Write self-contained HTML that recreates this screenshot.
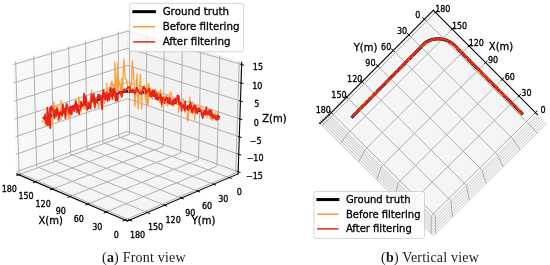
<!DOCTYPE html>
<html><head><meta charset="utf-8"><style>
html,body{margin:0;padding:0;background:#fff;}
body{width:550px;height:265px;overflow:hidden;position:relative;}
#fig{position:absolute;left:0;top:0;width:550px;height:265px;}
#fig svg{display:block}
#fig svg text{stroke:#000;stroke-width:0.3px;}
.cap{position:absolute;font-family:'Liberation Serif', serif;font-size:14px;color:#1a1a1a;white-space:nowrap;line-height:1;letter-spacing:0.2px;}
.cap b{font-weight:bold}
</style></head><body>
<div id="fig"><svg width="550px" height="265px" viewBox="0 0 550 265" version="1.1">
 
 <defs>
  <style type="text/css">*{stroke-linejoin: round; stroke-linecap: butt}</style>
 </defs>
 <g id="figure_1">
  <g id="patch_1">
   <path d="M 0 265 
L 550 265 
L 550 0 
L 0 0 
z
" style="fill: #ffffff"/>
  </g>
  <g id="patch_2">
   <path d="M 2.235 244.171 
L 246.035 244.171 
L 246.035 0.371 
L 2.235 0.371 
z
" style="fill: #ffffff"/>
  </g>
  <g id="pane3d_1">
   <g id="patch_3">
    <path d="M 127.429595 133.511484 
L 16.749578 173.865983 
L 13.142626 62.298031 
L 127.429595 29.096265 
" style="fill: #f2f2f2; opacity: 0.5; stroke: #f2f2f2; stroke-linejoin: miter"/>
   </g>
  </g>
  <g id="pane3d_2">
   <g id="patch_4">
    <path d="M 238.109611 173.865983 
L 127.429595 133.511484 
L 127.429595 29.096265 
L 241.716563 62.298031 
" style="fill: #e6e6e6; opacity: 0.5; stroke: #e6e6e6; stroke-linejoin: miter"/>
   </g>
  </g>
  <g id="pane3d_3">
   <g id="patch_5">
    <path d="M 238.109611 173.865983 
L 127.429595 133.511484 
L 16.749578 173.865983 
L 127.429595 221.099498 
" style="fill: #ececec; opacity: 0.5; stroke: #ececec; stroke-linejoin: miter"/>
   </g>
  </g>
  <g id="grid3d_1">
   <g id="Line3DCollection_1">
    <path d="M 125.031412 220.076056 
L 235.725903 172.996871 
L 239.249457 61.581306 
" style="fill: none; stroke: #b0b0b0"/>
    <path d="M 106.135844 212.012233 
L 216.922062 166.140895 
L 219.796572 55.930004 
" style="fill: none; stroke: #b0b0b0"/>
    <path d="M 87.741125 204.162151 
L 198.578514 159.452743 
L 200.834969 50.421426 
" style="fill: none; stroke: #b0b0b0"/>
    <path d="M 69.827604 196.517423 
L 180.67856 152.926329 
L 182.346268 45.050232 
" style="fill: none; stroke: #b0b0b0"/>
    <path d="M 52.376642 189.070096 
L 163.206304 146.555855 
L 164.312996 39.811345 
" style="fill: none; stroke: #b0b0b0"/>
    <path d="M 35.370552 181.812621 
L 146.146596 140.335799 
L 146.718531 34.699937 
" style="fill: none; stroke: #b0b0b0"/>
    <path d="M 18.792535 174.73783 
L 129.484996 134.260894 
L 129.547048 29.711411 
" style="fill: none; stroke: #b0b0b0"/>
   </g>
  </g>
  <g id="grid3d_2">
   <g id="Line3DCollection_2">
    <path d="M 118.273525 31.756215 
L 118.543141 136.751531 
L 229.273596 177.636818 
" style="fill: none; stroke: #b0b0b0"/>
    <path d="M 102.136237 36.444295 
L 102.889267 142.459013 
L 213.687253 184.288405 
" style="fill: none; stroke: #b0b0b0"/>
    <path d="M 85.627533 41.240276 
L 86.885948 148.293905 
L 197.724799 191.1005 
" style="fill: none; stroke: #b0b0b0"/>
    <path d="M 68.734442 46.147926 
L 70.521354 154.260519 
L 181.372452 198.078985 
" style="fill: none; stroke: #b0b0b0"/>
    <path d="M 51.44338 51.171192 
L 53.78311 160.363369 
L 164.615752 205.230031 
" style="fill: none; stroke: #b0b0b0"/>
    <path d="M 33.740116 56.314207 
L 36.65827 166.607172 
L 147.439512 212.560118 
" style="fill: none; stroke: #b0b0b0"/>
    <path d="M 15.609732 61.581306 
L 19.133287 172.996871 
L 129.827777 220.076056 
" style="fill: none; stroke: #b0b0b0"/>
   </g>
  </g>
  <g id="grid3d_3">
   <g id="Line3DCollection_3">
    <path d="M 238.179518 171.703682 
L 127.429595 131.483101 
L 16.679672 171.703682 
" style="fill: none; stroke: #b0b0b0"/>
    <path d="M 238.741964 154.306441 
L 127.429595 115.170114 
L 16.117225 154.306441 
" style="fill: none; stroke: #b0b0b0"/>
    <path d="M 239.310153 136.731594 
L 127.429595 98.702838 
L 15.549036 136.731594 
" style="fill: none; stroke: #b0b0b0"/>
    <path d="M 239.884172 118.976405 
L 127.429595 82.079073 
L 14.975018 118.976405 
" style="fill: none; stroke: #b0b0b0"/>
    <path d="M 240.464111 101.038087 
L 127.429595 65.29658 
L 14.395078 101.038087 
" style="fill: none; stroke: #b0b0b0"/>
    <path d="M 241.050063 82.91379 
L 127.429595 48.353073 
L 13.809126 82.91379 
" style="fill: none; stroke: #b0b0b0"/>
    <path d="M 241.642122 64.600607 
L 127.429595 31.246224 
L 13.217067 64.600607 
" style="fill: none; stroke: #b0b0b0"/>
   </g>
  </g>
  <g id="axis3d_1">
   <g id="line2d_1">
    <path d="M 16.749578 173.865983 
L 127.429595 221.099498 
" style="fill: none; stroke: #000000; stroke-width: 1.1; stroke-linecap: square"/>
   </g>
   <g id="xtick_1">
    <g id="line2d_2">
     <path d="M 125.991664 219.667654 
L 123.106981 220.894531 
" style="fill: none; stroke: #000000; stroke-linecap: square"/>
    </g>
    <g id="text_1">
     <text style="font-size: 8px; font-family: 'DejaVu Sans', sans-serif; text-anchor: middle" x="116.294" y="238.136" transform="rotate(-0 116.294 238.136)">0</text>
    </g>
   </g>
   <g id="xtick_2">
    <g id="line2d_3">
     <path d="M 107.095888 211.614724 
L 104.211882 212.808854 
" style="fill: none; stroke: #000000; stroke-linecap: square"/>
    </g>
    <g id="text_2">
     <text style="font-size: 8px; font-family: 'DejaVu Sans', sans-serif; text-anchor: middle" x="97.274" y="229.962" transform="rotate(-0 97.274 229.962)">30</text>
    </g>
   </g>
   <g id="xtick_3">
    <g id="line2d_4">
     <path d="M 88.700636 203.775105 
L 85.818285 204.937783 
" style="fill: none; stroke: #000000; stroke-linecap: square"/>
    </g>
    <g id="text_3">
     <text style="font-size: 8px; font-family: 'DejaVu Sans', sans-serif; text-anchor: middle" x="78.756" y="222.009" transform="rotate(-0 78.756 222.009)">60</text>
    </g>
   </g>
   <g id="xtick_4">
    <g id="line2d_5">
     <path d="M 70.78628 196.140433 
L 67.906486 197.272885 
" style="fill: none; stroke: #000000; stroke-linecap: square"/>
    </g>
    <g id="text_4">
     <text style="font-size: 8px; font-family: 'DejaVu Sans', sans-serif; text-anchor: middle" x="60.719" y="214.267" transform="rotate(-0 60.719 214.267)">90</text>
    </g>
   </g>
   <g id="xtick_5">
    <g id="line2d_6">
     <path d="M 53.334207 188.702775 
L 50.457799 189.806164 
" style="fill: none; stroke: #000000; stroke-linecap: square"/>
    </g>
    <g id="text_5">
     <text style="font-size: 8px; font-family: 'DejaVu Sans', sans-serif; text-anchor: middle" x="43.145" y="206.729" transform="rotate(-0 43.145 206.729)">120</text>
    </g>
   </g>
   <g id="xtick_6">
    <g id="line2d_7">
     <path d="M 36.32675 181.454601 
L 33.454494 182.530033 
" style="fill: none; stroke: #000000; stroke-linecap: square"/>
    </g>
    <g id="text_6">
     <text style="font-size: 8px; font-family: 'DejaVu Sans', sans-serif; text-anchor: middle" x="26.016" y="199.386" transform="rotate(-0 26.016 199.386)">150</text>
    </g>
   </g>
   <g id="xtick_7">
    <g id="line2d_8">
     <path d="M 19.747132 174.388762 
L 16.879732 175.437285 
" style="fill: none; stroke: #000000; stroke-linecap: square"/>
    </g>
    <g id="text_7">
     <text style="font-size: 8px; font-family: 'DejaVu Sans', sans-serif; text-anchor: middle" x="9.316" y="192.242" transform="rotate(-0 9.316 192.242)">180</text>
    </g>
   </g>
   <g id="text_8">
    <text style="font-size: 10px; font-family: 'DejaVu Sans', sans-serif; text-anchor: middle" x="50.700" y="223.826" transform="rotate(-0 50.700 223.826)">X(m)</text>
   </g>
  </g>
  <g id="axis3d_2">
   <g id="line2d_9">
    <path d="M 238.109611 173.865983 
L 127.429595 221.099498 
" style="fill: none; stroke: #000000; stroke-width: 1.1; stroke-linecap: square"/>
   </g>
   <g id="xtick_8">
    <g id="line2d_10">
     <path d="M 228.318311 177.284095 
L 231.187797 178.343603 
" style="fill: none; stroke: #000000; stroke-linecap: square"/>
    </g>
    <g id="text_9">
     <text style="font-size: 8px; font-family: 'DejaVu Sans', sans-serif; text-anchor: middle" x="239.324" y="194.949" transform="rotate(-0 239.324 194.949)">0</text>
    </g>
   </g>
   <g id="xtick_9">
    <g id="line2d_11">
     <path d="M 212.730557 183.927225 
L 215.604324 185.012154 
" style="fill: none; stroke: #000000; stroke-linecap: square"/>
    </g>
    <g id="text_10">
     <text style="font-size: 8px; font-family: 'DejaVu Sans', sans-serif; text-anchor: middle" x="223.351" y="201.689" transform="rotate(-0 223.351 201.689)">30</text>
    </g>
   </g>
   <g id="xtick_10">
    <g id="line2d_12">
     <path d="M 196.766902 190.730555 
L 199.644321 191.841831 
" style="fill: none; stroke: #000000; stroke-linecap: square"/>
    </g>
    <g id="text_11">
     <text style="font-size: 8px; font-family: 'DejaVu Sans', sans-serif; text-anchor: middle" x="207.002" y="208.594" transform="rotate(-0 207.002 208.594)">60</text>
    </g>
   </g>
   <g id="xtick_11">
    <g id="line2d_13">
     <path d="M 180.41358 197.699952 
L 183.293973 198.838545 
" style="fill: none; stroke: #000000; stroke-linecap: square"/>
    </g>
    <g id="text_12">
     <text style="font-size: 8px; font-family: 'DejaVu Sans', sans-serif; text-anchor: middle" x="190.263" y="215.661" transform="rotate(-0 190.263 215.661)">90</text>
    </g>
   </g>
   <g id="xtick_12">
    <g id="line2d_14">
     <path d="M 163.65615 204.84157 
L 166.538783 206.008502 
" style="fill: none; stroke: #000000; stroke-linecap: square"/>
    </g>
    <g id="text_13">
     <text style="font-size: 8px; font-family: 'DejaVu Sans', sans-serif; text-anchor: middle" x="173.109" y="222.915" transform="rotate(-0 173.109 222.915)">120</text>
    </g>
   </g>
   <g id="xtick_13">
    <g id="line2d_15">
     <path d="M 146.479443 212.161874 
L 149.363528 213.358215 
" style="fill: none; stroke: #000000; stroke-linecap: square"/>
    </g>
    <g id="text_14">
     <text style="font-size: 8px; font-family: 'DejaVu Sans', sans-serif; text-anchor: middle" x="155.545" y="230.345" transform="rotate(-0 155.545 230.345)">150</text>
    </g>
   </g>
   <g id="xtick_14">
    <g id="line2d_16">
     <path d="M 128.867525 219.667654 
L 131.752208 220.894531 
" style="fill: none; stroke: #000000; stroke-linecap: square"/>
    </g>
    <g id="text_15">
     <text style="font-size: 8px; font-family: 'DejaVu Sans', sans-serif; text-anchor: middle" x="137.545" y="237.976" transform="rotate(-0 137.545 237.976)">180</text>
    </g>
   </g>
   <g id="text_16">
    <text style="font-size: 10px; font-family: 'DejaVu Sans', sans-serif; text-anchor: middle" x="203.549" y="223.626" transform="rotate(-0 203.549 223.626)">Y(m)</text>
   </g>
  </g>
  <g id="axis3d_3">
   <g id="line2d_17">
    <path d="M 238.109611 173.865983 
L 241.716563 62.298031 
" style="fill: none; stroke: #000000; stroke-width: 1.1; stroke-linecap: square"/>
   </g>
   <g id="xtick_15">
    <g id="line2d_18">
     <path d="M 237.22449 171.356849 
L 240.09318 172.398659 
" style="fill: none; stroke: #000000; stroke-linecap: square"/>
    </g>
    <g id="text_17">
     <text style="font-size: 8px; font-family: 'DejaVu Sans', sans-serif; text-anchor: middle" x="254.516" y="179.072" transform="rotate(-0 254.516 179.072)">−15</text>
    </g>
   </g>
   <g id="xtick_16">
    <g id="line2d_19">
     <path d="M 237.781734 153.968834 
L 240.66607 154.982938 
" style="fill: none; stroke: #000000; stroke-linecap: square"/>
    </g>
    <g id="text_18">
     <text style="font-size: 8px; font-family: 'DejaVu Sans', sans-serif; text-anchor: middle" x="255.071" y="161.425" transform="rotate(-0 255.071 161.425)">−10</text>
    </g>
   </g>
   <g id="xtick_17">
    <g id="line2d_20">
     <path d="M 238.344664 136.403419 
L 241.244815 137.389195 
" style="fill: none; stroke: #000000; stroke-linecap: square"/>
    </g>
    <g id="text_19">
     <text style="font-size: 8px; font-family: 'DejaVu Sans', sans-serif; text-anchor: middle" x="255.623" y="143.590" transform="rotate(-0 255.623 143.590)">−5</text>
    </g>
   </g>
   <g id="xtick_18">
    <g id="line2d_21">
     <path d="M 238.913366 118.657876 
L 241.829506 119.614687 
" style="fill: none; stroke: #000000; stroke-linecap: square"/>
    </g>
    <g id="text_20">
     <text style="font-size: 8px; font-family: 'DejaVu Sans', sans-serif; text-anchor: middle" x="256.192" y="125.585" transform="rotate(-0 256.192 125.585)">0</text>
    </g>
   </g>
   <g id="xtick_19">
    <g id="line2d_22">
     <path d="M 239.48793 100.729418 
L 242.420236 101.656613 
" style="fill: none; stroke: #000000; stroke-linecap: square"/>
    </g>
    <g id="text_21">
     <text style="font-size: 8px; font-family: 'DejaVu Sans', sans-serif; text-anchor: middle" x="256.768" y="107.397" transform="rotate(-0 256.768 107.397)">5</text>
    </g>
   </g>
   <g id="xtick_20">
    <g id="line2d_23">
     <path d="M 240.068447 82.615205 
L 243.017098 83.512116 
" style="fill: none; stroke: #000000; stroke-linecap: square"/>
    </g>
    <g id="text_22">
     <text style="font-size: 8px; font-family: 'DejaVu Sans', sans-serif; text-anchor: middle" x="257.351" y="89.013" transform="rotate(-0 257.351 89.013)">10</text>
    </g>
   </g>
   <g id="xtick_21">
    <g id="line2d_24">
     <path d="M 240.655011 64.312333 
L 243.620189 65.178277 
" style="fill: none; stroke: #000000; stroke-linecap: square"/>
    </g>
    <g id="text_23">
     <text style="font-size: 8px; font-family: 'DejaVu Sans', sans-serif; text-anchor: middle" x="257.941" y="70.449" transform="rotate(-0 257.941 70.449)">15</text>
    </g>
   </g>
   <g id="text_24">
    <text style="font-size: 10px; font-family: 'DejaVu Sans', sans-serif; text-anchor: middle" x="274.400" y="122.026" transform="rotate(-0 274.400 122.026)">Z(m)</text>
   </g>
  </g>
  <g id="axes_1">
   <g id="line2d_25">
    <path d="M 43.939997 118.096411 
L 119.420012 92.645761 
L 121.773661 92.135803 
L 125.655909 91.584493 
L 129.831257 91.306064 
L 134.146142 91.310244 
L 138.442402 91.596888 
L 142.562232 92.155979 
L 146.353177 92.967868 
L 149.298875 93.860095 
L 218.378957 116.930607 
L 218.378957 116.930607 
" clip-path="url(#pd5484f3f6d)" style="fill: none; stroke: #000000; stroke-width: 2.5; stroke-linecap: square"/>
   </g>
   <g id="line2d_26">
    <path d="M 42.571384 122.078446 
L 44.729285 116.756534 
L 45.108668 125.829681 
L 46.084999 114.239562 
L 47.202977 111.411916 
L 47.354283 118.807613 
L 49.256392 114.445999 
L 49.560378 114.833563 
L 50.561146 118.139964 
L 50.460135 120.502315 
L 51.893442 125.760115 
L 53.133447 108.383132 
L 52.621148 115.130698 
L 53.720019 101.93888 
L 54.695708 110.263447 
L 56.792177 117.238298 
L 56.243977 106.699722 
L 56.756904 115.44839 
L 57.850577 105.094219 
L 58.894275 115.002061 
L 60.04477 111.506351 
L 60.990265 119.903042 
L 61.022245 100.099407 
L 62.038496 112.359271 
L 63.378189 113.379842 
L 63.908706 107.043882 
L 65.098622 114.729914 
L 66.185089 107.368451 
L 65.803358 116.278814 
L 67.246345 107.687272 
L 68.195488 115.033639 
L 69.223005 118.715407 
L 68.555087 112.322628 
L 70.457876 116.470556 
L 71.031027 106.330536 
L 71.515774 108.564572 
L 72.243902 106.153846 
L 73.044374 107.84039 
L 73.802169 109.701381 
L 75.090164 107.761405 
L 74.988209 102.017287 
L 76.544573 108.214797 
L 76.317616 110.994375 
L 77.143204 111.70698 
L 77.53407 107.556124 
L 78.553626 109.85077 
L 78.778525 96.873563 
L 81.268663 111.869254 
L 81.012586 110.469112 
L 81.571627 106.863421 
L 83.280426 102.137028 
L 83.807011 106.252038 
L 83.920655 109.122633 
L 85.380312 108.325211 
L 86.842555 98.928024 
L 87.261256 107.904796 
L 87.572323 103.923934 
L 88.038016 106.039626 
L 89.64638 101.343652 
L 91.185805 100.436256 
L 91.022339 109.104067 
L 91.739416 90.177932 
L 91.705517 100.820744 
L 95.129611 105.949594 
L 94.853111 102.20063 
L 94.856861 100.48022 
L 96.11142 97.396879 
L 97.246504 100.439114 
L 96.376554 97.615457 
L 98.576618 107.414853 
L 98.876776 103.376735 
L 100.188152 104.486396 
L 100.846681 98.074122 
L 101.238312 96.589208 
L 100.923065 106.197889 
L 102.46328 98.940711 
L 103.718453 94.387069 
L 103.48758 92.069392 
L 104.562514 103.441156 
L 104.656231 92.784265 
L 106.982151 94.320545 
L 107.109779 99.575628 
L 106.693829 83.14488 
L 107.98106 101.497502 
L 108.644956 98.293727 
L 108.913085 89.458939 
L 110.671207 87.995699 
L 110.976184 96.370373 
L 110.846063 83.679428 
L 112.063902 81.340889 
L 112.175147 85.382362 
L 113.804876 84.329137 
L 113.694079 90.319084 
L 115.623942 102.55763 
L 114.694155 61.921401 
L 117.264263 92.443937 
L 117.797927 62.654557 
L 117.527808 90.423191 
L 118.843751 79.531785 
L 120.731077 90.136255 
L 121.959144 78.212063 
L 122.334083 96.880127 
L 123.82445 58.920351 
L 125.399791 78.845998 
L 126.472498 79.927404 
L 128.712674 91.703269 
L 130.243843 83.516773 
L 131.342902 86.055538 
L 132.290031 60.839483 
L 133.488945 72.039794 
L 134.854958 106.277584 
L 137.088769 73.664898 
L 138.108477 109.096127 
L 140.380196 74.379407 
L 141.535241 108.867024 
L 142.216694 91.512122 
L 144.189877 85.228706 
L 144.617047 91.845987 
L 146.064457 101.925344 
L 146.713958 83.301304 
L 147.674646 105.598813 
L 148.305936 102.914875 
L 148.586539 83.385398 
L 152.45759 99.045207 
L 150.862071 92.089042 
L 152.968246 89.230643 
L 152.836784 94.720125 
L 154.123925 93.507647 
L 155.699163 94.025606 
L 153.862207 94.190309 
L 155.267042 89.310307 
L 156.218711 91.175716 
L 157.676504 94.63123 
L 158.739369 92.116677 
L 158.01134 99.30831 
L 159.264713 100.904341 
L 159.656006 102.396279 
L 159.626639 94.075227 
L 160.580605 89.568908 
L 161.794059 107.446195 
L 163.07073 100.7362 
L 164.205128 96.385272 
L 164.315043 97.326528 
L 164.043424 98.345762 
L 167.28469 94.81776 
L 166.409608 95.13053 
L 167.241357 105.952891 
L 168.045105 97.735036 
L 168.496736 103.74992 
L 168.149851 99.285755 
L 169.517305 94.306576 
L 170.889265 92.118324 
L 171.822678 97.757109 
L 170.741145 104.081375 
L 171.795666 103.501384 
L 173.200949 99.787491 
L 172.825363 106.543949 
L 176.125514 99.917292 
L 176.347774 98.82708 
L 177.111681 104.351817 
L 177.9314 101.999805 
L 178.464362 96.74687 
L 178.888624 101.838985 
L 178.371949 112.306103 
L 179.900892 103.361803 
L 180.454752 102.811356 
L 181.598337 106.941628 
L 182.289246 104.4389 
L 185.078413 112.583105 
L 183.443153 98.99601 
L 184.776339 103.740494 
L 185.030489 109.10364 
L 186.902427 105.196303 
L 186.130492 105.684464 
L 187.884298 110.884854 
L 187.195488 119.62236 
L 188.04792 120.802516 
L 189.836627 97.162097 
L 190.702522 113.111187 
L 190.711796 105.227469 
L 193.489487 110.017762 
L 192.679678 102.500319 
L 193.068583 113.437859 
L 195.4717 106.120611 
L 194.462637 119.843924 
L 196.253869 105.767368 
L 195.530153 106.148585 
L 196.615991 108.019712 
L 197.389454 108.935828 
L 198.817617 108.714397 
L 200.350575 106.419615 
L 200.0801 105.853235 
L 201.096824 115.697628 
L 201.151492 106.27042 
L 202.420004 116.30154 
L 202.83237 110.469741 
L 203.48046 113.266738 
L 204.134837 110.076402 
L 204.060974 113.805268 
L 205.714054 110.872098 
L 207.321348 115.518984 
L 207.012733 117.974389 
L 208.129289 108.493704 
L 209.75249 110.984762 
L 209.960646 111.664206 
L 210.033992 109.33313 
L 210.480953 119.461777 
L 211.719365 110.195008 
L 212.295435 120.232311 
L 214.641408 113.162769 
L 214.359435 116.374145 
L 215.271819 114.225636 
L 215.306369 112.995631 
L 215.642535 116.011436 
L 216.956912 120.883191 
L 217.348698 112.250395 
L 218.250643 110.804535 
L 218.250643 110.804535 
" clip-path="url(#pd5484f3f6d)" style="fill: none; stroke: #ff9f3a; stroke-width: 1.3; stroke-linecap: square"/>
   </g>
   <g id="line2d_27">
    <path d="M 44.144707 117.081486 
L 44.699201 119.677435 
L 45.197988 114.299875 
L 46.250642 123.412268 
L 47.822288 125.21312 
L 47.280137 107.682741 
L 48.410744 115.919095 
L 50.319856 128.19219 
L 49.993524 108.13566 
L 50.146429 122.169773 
L 51.374186 106.119389 
L 51.750503 106.873144 
L 53.441468 111.036013 
L 54.05531 114.800578 
L 54.484043 118.453748 
L 55.565478 109.790508 
L 56.239335 115.910943 
L 56.875652 108.603101 
L 58.555343 114.635331 
L 58.599749 120.029392 
L 59.110085 115.802724 
L 60.241827 112.337949 
L 60.384199 114.606931 
L 61.662518 111.604677 
L 62.196975 115.768545 
L 62.862496 104.555918 
L 64.158095 113.634194 
L 64.964862 108.797363 
L 65.413707 118.093155 
L 66.153141 106.927603 
L 66.646395 103.77733 
L 67.784895 107.509187 
L 68.658211 110.863431 
L 69.901351 113.604729 
L 70.138387 106.730751 
L 70.879891 106.390174 
L 71.704379 114.40888 
L 72.215356 108.46746 
L 72.99542 105.819047 
L 74.27241 111.146293 
L 74.506747 105.086663 
L 74.927054 108.693705 
L 75.855465 101.008837 
L 76.901446 112.257327 
L 77.126704 104.351544 
L 77.76135 105.874999 
L 79.182925 114.102901 
L 79.580765 109.694928 
L 80.516843 109.220548 
L 80.997438 101.613723 
L 82.194992 106.705151 
L 83.442088 104.092488 
L 84.065668 93.667199 
L 84.909714 105.302483 
L 85.578314 96.053652 
L 86.510154 104.387555 
L 87.444372 109.85359 
L 87.596077 106.452229 
L 88.590069 108.274198 
L 88.709399 104.188495 
L 90.398303 108.403265 
L 90.597109 106.053895 
L 91.31701 94.260592 
L 92.558065 100.671241 
L 92.228535 100.223489 
L 93.852458 93.895601 
L 94.743484 107.560777 
L 95.544297 98.557859 
L 96.26973 102.275076 
L 96.575681 100.305256 
L 97.572255 102.78747 
L 97.350741 99.26359 
L 98.19852 94.643229 
L 99.040117 94.515041 
L 99.530876 98.129286 
L 100.778693 95.655715 
L 101.812662 103.325312 
L 102.175616 109.468035 
L 102.841111 93.805171 
L 103.417867 89.795669 
L 105.109215 99.621651 
L 106.60263 92.11762 
L 107.378144 100.973855 
L 108.954704 93.785058 
L 109.532854 99.770613 
L 110.340221 87.881511 
L 110.388255 92.147604 
L 111.866681 89.096166 
L 112.392702 98.931014 
L 113.651417 88.759883 
L 114.454488 92.471895 
L 114.70988 89.298449 
L 115.801416 100.378694 
L 116.415749 93.840412 
L 117.273048 100.553887 
L 117.960296 94.693916 
L 119.590665 91.422615 
L 120.95673 92.843279 
L 121.504708 96.755891 
L 122.824965 90.995729 
L 124.33665 89.304539 
L 125.131228 91.9626 
L 126.953827 88.514137 
L 128.147781 87.272967 
L 129.849891 86.844615 
L 131.211811 92.452469 
L 132.730701 89.345711 
L 134.659337 93.683414 
L 136.681553 87.597966 
L 138.771169 91.922708 
L 139.86272 93.434531 
L 141.438879 93.97196 
L 142.652136 90.266022 
L 143.386631 86.809226 
L 145.454505 89.174734 
L 146.189785 93.628043 
L 147.389235 90.483297 
L 148.950355 90.163998 
L 149.225942 88.576124 
L 150.102894 96.518542 
L 150.601425 91.998336 
L 151.57428 96.073562 
L 151.855596 96.720408 
L 152.656527 90.459057 
L 153.671488 93.407502 
L 153.85475 95.359676 
L 154.663551 90.980937 
L 154.990137 95.401642 
L 155.731263 99.161495 
L 156.732516 93.336973 
L 157.559976 99.711815 
L 157.924299 99.879922 
L 158.727051 98.490259 
L 159.29482 97.810935 
L 160.556425 94.381612 
L 160.843187 98.93572 
L 161.632446 104.11939 
L 162.412841 99.873097 
L 162.305878 97.292951 
L 163.215849 99.087018 
L 164.655517 99.425113 
L 164.666804 103.150489 
L 165.0886 100.703921 
L 166.262096 97.51215 
L 167.534725 97.830361 
L 167.671137 102.80372 
L 168.272448 102.644232 
L 169.223901 103.673091 
L 169.729518 97.562229 
L 170.656114 103.400493 
L 171.114368 101.970548 
L 171.483512 104.238401 
L 172.467504 104.612062 
L 172.579979 102.312833 
L 174.051815 99.007119 
L 174.197082 103.921894 
L 175.806411 98.776672 
L 175.65999 102.839394 
L 176.801314 100.965614 
L 177.501285 95.496744 
L 178.847711 96.355874 
L 178.933373 102.737511 
L 179.299743 103.777066 
L 179.997898 104.697477 
L 180.86962 102.145649 
L 181.667057 110.636342 
L 181.824352 107.128012 
L 183.419432 105.595637 
L 183.663859 107.745349 
L 184.999039 108.636777 
L 185.275816 101.658978 
L 185.014545 110.567651 
L 186.688567 107.517406 
L 187.164353 108.496412 
L 188.178037 108.281409 
L 188.377467 110.282163 
L 189.401577 104.940302 
L 190.494762 107.979609 
L 190.57881 102.451156 
L 191.801335 111.970666 
L 191.286283 107.90192 
L 192.581685 112.383161 
L 193.276381 107.83908 
L 194.399118 105.355667 
L 195.959101 112.874643 
L 195.572612 106.360193 
L 196.90802 112.224521 
L 197.466917 113.342295 
L 197.939575 108.97778 
L 198.655162 108.160608 
L 199.655627 110.266108 
L 200.410696 109.974934 
L 200.756926 111.234474 
L 201.731132 112.857638 
L 202.710978 118.068131 
L 203.549053 112.88653 
L 203.813181 114.167891 
L 204.311507 110.738052 
L 205.453148 114.96908 
L 206.379228 107.062106 
L 206.39372 111.171178 
L 207.682221 114.513529 
L 208.580156 111.512239 
L 208.756802 114.428099 
L 209.316822 110.122555 
L 210.19027 115.528118 
L 211.184512 110.133525 
L 212.348798 117.852205 
L 212.141921 114.616683 
L 212.872643 115.277638 
L 213.886913 117.968582 
L 214.03151 116.502426 
L 214.937245 115.803976 
L 216.068467 119.725542 
L 217.062924 119.052899 
L 217.627614 115.317182 
L 218.616883 119.206485 
L 218.616883 119.206485 
" clip-path="url(#pd5484f3f6d)" style="fill: none; stroke: #e8231b; stroke-width: 1.8; stroke-linecap: square"/>
   </g>
   <g id="legend_1">
    <g id="patch_6">
     <path d="M 131.75 51.757906 
L 241.543172 51.757906 
Q 243.603172 51.757906 243.603172 49.697906 
L 243.603172 5.3725 
Q 243.603172 3.3125 241.543172 3.3125 
L 131.75 3.3125 
Q 129.69 3.3125 129.69 5.3725 
L 129.69 49.697906 
Q 129.69 51.757906 131.75 51.757906 
z
" style="fill: #ffffff; opacity: 0.8; stroke: #cccccc; stroke-linejoin: miter"/>
    </g>
    <g id="line2d_28">
     <path d="M 133.81 11.653891 
L 144.11 11.653891 
L 154.41 11.653891 
" style="fill: none; stroke: #000000; stroke-width: 3; stroke-linecap: square"/>
    </g>
    <g id="text_25">
     <text style="font-size: 10.3px; font-family: 'DejaVu Sans', sans-serif; text-anchor: start" x="162.65" y="15.258891" transform="rotate(-0 162.65 15.258891)">Ground truth</text>
    </g>
    <g id="line2d_29">
     <path d="M 133.81 26.772359 
L 144.11 26.772359 
L 154.41 26.772359 
" style="fill: none; stroke: #ff9f3a; stroke-width: 1.5; stroke-linecap: square"/>
    </g>
    <g id="text_26">
     <text style="font-size: 10.3px; font-family: 'DejaVu Sans', sans-serif; text-anchor: start" x="162.65" y="30.377359" transform="rotate(-0 162.65 30.377359)">Before filtering</text>
    </g>
    <g id="line2d_30">
     <path d="M 133.81 41.890828 
L 144.11 41.890828 
L 154.41 41.890828 
" style="fill: none; stroke: #e8231b; stroke-width: 1.5; stroke-linecap: square"/>
    </g>
    <g id="text_27">
     <text style="font-size: 10.3px; font-family: 'DejaVu Sans', sans-serif; text-anchor: start" x="162.65" y="45.495828" transform="rotate(-0 162.65 45.495828)">After filtering</text>
    </g>
   </g>
  </g>
  <g id="patch_7">
   <path d="M 308.1945 244.11005 
L 551.9945 244.11005 
L 551.9945 0.31005 
L 308.1945 0.31005 
z
" style="fill: #ffffff"/>
  </g>
  <g id="pane3d_4">
   <g id="patch_8">
    <path d="M 537.556771 114.715701 
L 433.389095 217.986586 
L 433.389095 236.071247 
L 547.059206 123.498322 
" style="fill: #f2f2f2; opacity: 0.5; stroke: #f2f2f2; stroke-linejoin: miter"/>
   </g>
  </g>
  <g id="pane3d_5">
   <g id="patch_9">
    <path d="M 433.389095 217.986586 
L 329.221418 114.715701 
L 319.718983 123.498322 
L 433.389095 236.071247 
" style="fill: #e6e6e6; opacity: 0.5; stroke: #e6e6e6; stroke-linejoin: miter"/>
   </g>
  </g>
  <g id="pane3d_6">
   <g id="patch_10">
    <path d="M 537.556771 114.715701 
L 433.389095 10.196165 
L 329.221418 114.715701 
L 433.389095 217.986586 
" style="fill: #ececec; opacity: 0.5; stroke: #ececec; stroke-linejoin: miter"/>
   </g>
  </g>
  <g id="grid3d_4">
   <g id="Line3DCollection_4">
    <path d="M 535.485688 112.637622 
L 431.317938 215.933261 
L 431.130208 233.834164 
" style="fill: none; stroke: #b0b0b0"/>
    <path d="M 518.899081 95.994989 
L 414.730852 199.488975 
L 413.037904 215.916493 
" style="fill: none; stroke: #b0b0b0"/>
    <path d="M 502.280515 79.320288 
L 398.111996 183.013192 
L 394.907798 197.961386 
" style="fill: none; stroke: #b0b0b0"/>
    <path d="M 485.629895 62.613425 
L 381.461278 166.505823 
L 376.739774 179.968726 
" style="fill: none; stroke: #b0b0b0"/>
    <path d="M 468.94713 45.874309 
L 364.778608 149.966775 
L 358.533711 161.938396 
" style="fill: none; stroke: #b0b0b0"/>
    <path d="M 452.232126 29.102845 
L 348.063892 133.395958 
L 340.289491 143.870275 
" style="fill: none; stroke: #b0b0b0"/>
    <path d="M 435.48479 12.298939 
L 331.317039 116.793281 
L 322.006993 125.764247 
" style="fill: none; stroke: #b0b0b0"/>
   </g>
  </g>
  <g id="grid3d_5">
   <g id="Line3DCollection_5">
    <path d="M 537.218989 133.243557 
L 528.543649 123.651228 
L 424.375675 19.24003 
" style="fill: none; stroke: #b0b0b0"/>
    <path d="M 520.20792 150.090429 
L 512.960398 139.100321 
L 408.792043 34.876301 
" style="fill: none; stroke: #b0b0b0"/>
    <path d="M 503.230007 166.904465 
L 497.404987 154.521814 
L 393.236419 50.484469 
" style="fill: none; stroke: #b0b0b0"/>
    <path d="M 486.285153 183.685761 
L 481.877341 169.915781 
L 377.708728 66.064609 
" style="fill: none; stroke: #b0b0b0"/>
    <path d="M 469.373261 200.434413 
L 466.377385 185.282296 
L 362.208895 81.616799 
" style="fill: none; stroke: #b0b0b0"/>
    <path d="M 452.494236 217.150516 
L 450.905047 200.621431 
L 346.736844 97.141111 
" style="fill: none; stroke: #b0b0b0"/>
    <path d="M 435.647981 233.834164 
L 435.460251 215.933261 
L 331.292502 112.637622 
" style="fill: none; stroke: #b0b0b0"/>
   </g>
  </g>
  <g id="grid3d_6">
   <g id="Line3DCollection_6">
    <path d="M 329.046966 114.876939 
L 433.389095 218.318776 
L 537.731224 114.876939 
" style="fill: none; stroke: #b0b0b0; stroke-width: 0.6"/>
    <path d="M 327.630021 116.18655 
L 433.389095 221.016646 
L 539.148169 116.18655 
" style="fill: none; stroke: #b0b0b0; stroke-width: 0.6"/>
    <path d="M 326.174062 117.532219 
L 433.389095 223.788341 
L 540.604127 117.532219 
" style="fill: none; stroke: #b0b0b0; stroke-width: 0.6"/>
    <path d="M 324.677457 118.915455 
L 433.389095 226.636934 
L 542.100732 118.915455 
" style="fill: none; stroke: #b0b0b0; stroke-width: 0.6"/>
    <path d="M 323.138478 120.337856 
L 433.389095 229.565669 
L 543.639712 120.337856 
" style="fill: none; stroke: #b0b0b0; stroke-width: 0.6"/>
    <path d="M 321.5553 121.801107 
L 433.389095 232.577977 
L 545.222889 121.801107 
" style="fill: none; stroke: #b0b0b0; stroke-width: 0.6"/>
    <path d="M 319.925991 123.306995 
L 433.389095 235.677488 
L 546.852198 123.306995 
" style="fill: none; stroke: #b0b0b0; stroke-width: 0.6"/>
   </g>
  </g>
  <g id="axis3d_4">
   <g id="line2d_31">
    <path d="M 537.556771 114.715701 
L 433.389095 10.196165 
" style="fill: none; stroke: #000000; stroke-width: 1.1; stroke-linecap: square"/>
   </g>
   <g id="xtick_22">
    <g id="line2d_32">
     <path d="M 534.647378 113.468914 
L 537.162549 110.974799 
" style="fill: none; stroke: #000000; stroke-linecap: square"/>
    </g>
    <g id="text_28">
     <text style="font-size: 8px; font-family: 'DejaVu Sans', sans-serif; text-anchor: middle" x="543.075" y="113.181" transform="rotate(-0 543.075 113.181)">0</text>
    </g>
   </g>
   <g id="xtick_23">
    <g id="line2d_33">
     <path d="M 518.060763 96.827882 
L 520.575961 94.328964 
" style="fill: none; stroke: #000000; stroke-linecap: square"/>
    </g>
    <g id="text_29">
     <text style="font-size: 8px; font-family: 'DejaVu Sans', sans-serif; text-anchor: middle" x="526.441" y="96.406" transform="rotate(-0 526.441 96.406)">30</text>
    </g>
   </g>
   <g id="xtick_24">
    <g id="line2d_34">
     <path d="M 501.442189 80.154786 
L 503.957408 77.65105 
" style="fill: none; stroke: #000000; stroke-linecap: square"/>
    </g>
    <g id="text_30">
     <text style="font-size: 8px; font-family: 'DejaVu Sans', sans-serif; text-anchor: middle" x="509.777" y="79.609" transform="rotate(-0 509.777 79.609)">60</text>
    </g>
   </g>
   <g id="xtick_25">
    <g id="line2d_35">
     <path d="M 484.791564 63.449534 
L 487.3068 60.940967 
" style="fill: none; stroke: #000000; stroke-linecap: square"/>
    </g>
    <g id="text_31">
     <text style="font-size: 8px; font-family: 'DejaVu Sans', sans-serif; text-anchor: middle" x="493.070" y="62.780" transform="rotate(-0 493.070 62.780)">90</text>
    </g>
   </g>
   <g id="xtick_26">
    <g id="line2d_36">
     <path d="M 468.108794 46.712032 
L 470.624043 44.19862 
" style="fill: none; stroke: #000000; stroke-linecap: square"/>
    </g>
    <g id="text_32">
     <text style="font-size: 8px; font-family: 'DejaVu Sans', sans-serif; text-anchor: middle" x="476.342" y="45.920" transform="rotate(-0 476.342 45.920)">120</text>
    </g>
   </g>
   <g id="xtick_27">
    <g id="line2d_37">
     <path d="M 451.393788 29.942187 
L 453.909045 27.423915 
" style="fill: none; stroke: #000000; stroke-linecap: square"/>
    </g>
    <g id="text_33">
     <text style="font-size: 8px; font-family: 'DejaVu Sans', sans-serif; text-anchor: middle" x="459.582" y="29.027" transform="rotate(-0 459.582 29.027)">150</text>
    </g>
   </g>
   <g id="xtick_28">
    <g id="line2d_38">
     <path d="M 434.646451 13.139906 
L 437.161711 10.61676 
" style="fill: none; stroke: #000000; stroke-linecap: square"/>
    </g>
    <g id="text_34">
     <text style="font-size: 8px; font-family: 'DejaVu Sans', sans-serif; text-anchor: middle" x="442.781" y="12.103" transform="rotate(-0 442.781 12.103)">180</text>
    </g>
   </g>
   <g id="text_35">
    <text style="font-size: 10px; font-family: 'DejaVu Sans', sans-serif; text-anchor: middle" x="501.006" y="50.422" transform="rotate(-0 501.006 50.422)">X(m)</text>
   </g>
  </g>
  <g id="axis3d_5">
   <g id="line2d_39">
    <path d="M 329.221418 114.715701 
L 433.389095 10.196165 
" style="fill: none; stroke: #000000; stroke-width: 1.1; stroke-linecap: square"/>
   </g>
   <g id="xtick_29">
    <g id="line2d_40">
     <path d="M 425.214014 20.080326 
L 422.698755 17.559194 
" style="fill: none; stroke: #000000; stroke-linecap: square"/>
    </g>
    <g id="text_36">
     <text style="font-size: 8px; font-family: 'DejaVu Sans', sans-serif; text-anchor: middle" x="417.818" y="17.873" transform="rotate(-0 417.818 17.873)">0</text>
    </g>
   </g>
   <g id="xtick_30">
    <g id="line2d_41">
     <path d="M 409.630381 35.715086 
L 407.115126 33.198487 
" style="fill: none; stroke: #000000; stroke-linecap: square"/>
    </g>
    <g id="text_37">
     <text style="font-size: 8px; font-family: 'DejaVu Sans', sans-serif; text-anchor: middle" x="402.002" y="33.877" transform="rotate(-0 402.002 33.877)">30</text>
    </g>
   </g>
   <g id="xtick_31">
    <g id="line2d_42">
     <path d="M 394.074754 51.321747 
L 391.559508 48.809669 
" style="fill: none; stroke: #000000; stroke-linecap: square"/>
    </g>
    <g id="text_38">
     <text style="font-size: 8px; font-family: 'DejaVu Sans', sans-serif; text-anchor: middle" x="386.203" y="49.843" transform="rotate(-0 386.203 49.843)">60</text>
    </g>
   </g>
   <g id="xtick_32">
    <g id="line2d_43">
     <path d="M 378.547059 66.900385 
L 376.031825 64.392816 
" style="fill: none; stroke: #000000; stroke-linecap: square"/>
    </g>
    <g id="text_39">
     <text style="font-size: 8px; font-family: 'DejaVu Sans', sans-serif; text-anchor: middle" x="370.442" y="65.791" transform="rotate(-0 370.442 65.791)">90</text>
    </g>
   </g>
   <g id="xtick_33">
    <g id="line2d_44">
     <path d="M 363.04722 82.451076 
L 360.532003 79.948004 
" style="fill: none; stroke: #000000; stroke-linecap: square"/>
    </g>
    <g id="text_40">
     <text style="font-size: 8px; font-family: 'DejaVu Sans', sans-serif; text-anchor: middle" x="354.698" y="81.702" transform="rotate(-0 354.698 81.702)">120</text>
    </g>
   </g>
   <g id="xtick_34">
    <g id="line2d_45">
     <path d="M 347.575162 97.973893 
L 345.059966 95.475306 
" style="fill: none; stroke: #000000; stroke-linecap: square"/>
    </g>
    <g id="text_41">
     <text style="font-size: 8px; font-family: 'DejaVu Sans', sans-serif; text-anchor: middle" x="338.982" y="97.585" transform="rotate(-0 338.982 97.585)">150</text>
    </g>
   </g>
   <g id="xtick_35">
    <g id="line2d_46">
     <path d="M 332.130812 113.468914 
L 329.61564 110.974799 
" style="fill: none; stroke: #000000; stroke-linecap: square"/>
    </g>
    <g id="text_42">
     <text style="font-size: 8px; font-family: 'DejaVu Sans', sans-serif; text-anchor: middle" x="323.304" y="113.451" transform="rotate(-0 323.304 113.451)">180</text>
    </g>
   </g>
   <g id="text_43">
    <text style="font-size: 10px; font-family: 'DejaVu Sans', sans-serif; text-anchor: middle" x="365.552" y="50.622" transform="rotate(-0 365.552 50.622)">Y(m)</text>
   </g>
  </g>
  <g id="axis3d_6">
   <g id="line2d_47">
    <path d="M 329.221418 114.715701 
L 319.718983 123.498322 
" style="fill: none; stroke: #000000; stroke-width: 1.1; stroke-linecap: square"/>
   </g>
   <g id="xtick_36">
    <g id="line2d_48">
     <path d="M 329.466836 115.293187 
L 328.207164 114.044383 
" style="fill: none; stroke: #000000; stroke-width: 0.6; stroke-linecap: square"/>
    </g>
   </g>
   <g id="xtick_37">
    <g id="line2d_49">
     <path d="M 328.055627 116.608418 
L 326.778745 115.342751 
" style="fill: none; stroke: #000000; stroke-width: 0.6; stroke-linecap: square"/>
    </g>
   </g>
   <g id="xtick_38">
    <g id="line2d_50">
     <path d="M 326.605564 117.959861 
L 325.310994 116.67687 
" style="fill: none; stroke: #000000; stroke-width: 0.6; stroke-linecap: square"/>
    </g>
   </g>
   <g id="xtick_39">
    <g id="line2d_51">
     <path d="M 325.115019 119.349033 
L 323.802266 118.048236 
" style="fill: none; stroke: #000000; stroke-width: 0.6; stroke-linecap: square"/>
    </g>
   </g>
   <g id="xtick_40">
    <g id="line2d_52">
     <path d="M 323.582274 120.777535 
L 322.250818 119.458431 
" style="fill: none; stroke: #000000; stroke-width: 0.6; stroke-linecap: square"/>
    </g>
   </g>
   <g id="xtick_41">
    <g id="line2d_53">
     <path d="M 322.005509 122.247062 
L 320.654811 120.909129 
" style="fill: none; stroke: #000000; stroke-width: 0.6; stroke-linecap: square"/>
    </g>
   </g>
   <g id="xtick_42">
    <g id="line2d_54">
     <path d="M 320.382802 123.759407 
L 319.012297 122.402099 
" style="fill: none; stroke: #000000; stroke-width: 0.6; stroke-linecap: square"/>
    </g>
   </g>
  </g>
  <g id="axes_2">
   <g id="line2d_55">
    <path d="M 352.52464 116.516698 
L 424.066672 43.858456 
L 426.353518 42.134976 
L 428.867867 40.741843 
L 431.5666 39.703059 
L 434.403401 39.036527 
L 437.32956 38.753738 
L 440.294819 38.859568 
L 443.248244 39.352193 
L 446.139109 40.223119 
L 448.917781 41.457333 
L 451.536575 43.033567 
L 453.950586 44.924674 
L 457.094549 48.026837 
L 521.701593 113.32475 
L 521.701593 113.32475 
" clip-path="url(#pc0ad0b9c01)" style="fill: none; stroke: #000000; stroke-width: 3.2; stroke-linecap: square"/>
   </g>
   <g id="line2d_56">
    <path d="M 351.358508 116.158362 
L 353.218693 116.25977 
L 353.894798 114.516031 
L 354.374038 115.169276 
L 355.298252 114.26402 
L 355.659465 112.132003 
L 357.344893 112.546492 
L 357.590749 111.081122 
L 358.70055 111.118045 
L 358.695194 111.055006 
L 360.213267 109.189068 
L 360.751839 109.617308 
L 360.43581 107.694033 
L 360.979654 107.470398 
L 362.221981 106.525236 
L 363.255314 106.936227 
L 364.471019 104.963051 
L 363.522478 104.6057 
L 364.25417 102.127633 
L 364.958958 102.608509 
L 366.339708 102.403843 
L 367.281299 100.896106 
L 368.481073 100.268145 
L 367.781666 99.54731 
L 369.207502 99.320621 
L 370.510967 98.067892 
L 370.784911 97.210199 
L 372.12464 94.726459 
L 373.049827 97.512317 
L 372.882545 95.130801 
L 374.026215 95.230401 
L 375.134036 93.435564 
L 376.232157 92.642859 
L 375.358999 92.158786 
L 377.595509 91.475469 
L 378.102548 90.245101 
L 378.753824 90.340169 
L 380.330755 88.137431 
L 381.54761 88.046804 
L 381.228984 86.253472 
L 382.95006 86.329167 
L 382.792835 86.0299 
L 383.602903 85.118294 
L 383.842824 83.89446 
L 384.889214 82.951935 
L 384.779477 83.319765 
L 387.625335 82.641298 
L 387.26624 80.025127 
L 387.75024 80.704878 
L 389.338974 80.766385 
L 389.929614 79.483554 
L 390.071317 77.923625 
L 391.502819 77.77721 
L 391.834649 77.112952 
L 392.711166 76.071363 
L 393.282757 74.139684 
L 393.533197 75.278996 
L 394.013844 73.943623 
L 395.520415 73.753473 
L 397.011439 72.145824 
L 396.988841 70.676026 
L 397.341051 70.998536 
L 397.501798 70.275633 
L 399.729738 69.44914 
L 401.020532 69.647622 
L 400.641819 67.80976 
L 400.59926 66.989775 
L 401.79935 66.464473 
L 402.997766 66.625945 
L 402.051217 65.395501 
L 404.395723 63.527017 
L 404.638643 63.802792 
L 405.965552 63.159797 
L 406.520447 62.250561 
L 406.894601 62.241348 
L 406.694616 60.837062 
L 408.136942 60.222034 
L 409.349431 60.429948 
L 409.048204 57.836481 
L 410.277809 57.263921 
L 410.239684 57.405169 
L 412.614745 56.835597 
L 412.792884 55.913304 
L 412.167155 54.808351 
L 413.676845 54.152971 
L 414.317669 54.274365 
L 414.485935 53.113155 
L 416.252021 51.586968 
L 416.6338 50.822097 
L 416.400091 52.581036 
L 417.749061 49.527842 
L 419.40315 48.436433 
L 419.330005 47.706228 
L 421.372819 45.764602 
L 420.147116 47.74537 
L 423.366547 45.664657 
L 423.238242 44.873849 
L 426.513308 42.90841 
L 428.172722 41.106866 
L 429.619556 40.883627 
L 432.399314 39.694789 
L 434.708052 38.827836 
L 436.294851 38.984775 
L 437.425721 38.230579 
L 438.471046 39.036385 
L 439.686473 38.674378 
L 440.962878 38.492819 
L 443.414305 39.437504 
L 444.260005 39.255973 
L 446.816131 40.616791 
L 447.728656 41.894331 
L 448.574947 40.718652 
L 450.63617 43.245907 
L 451.018826 42.509129 
L 452.375346 44.621034 
L 453.232847 45.176126 
L 453.972383 44.807622 
L 454.615697 47.254335 
L 455.120027 48.29559 
L 458.873297 48.464393 
L 457.336717 48.696166 
L 459.515866 49.659569 
L 459.286617 50.772153 
L 460.606818 51.407558 
L 462.21945 50.515621 
L 460.307678 52.847684 
L 461.805083 53.424541 
L 462.744733 53.523389 
L 464.147927 54.930622 
L 465.259284 55.668589 
L 464.399242 55.469737 
L 465.624586 56.411453 
L 465.972601 57.566283 
L 466.056032 59.459896 
L 467.503387 57.71876 
L 468.020977 58.459566 
L 470.702365 61.501624 
L 470.406022 61.544023 
L 473.700817 64.133303 
L 472.808634 64.147054 
L 473.431452 63.310948 
L 474.39113 64.690582 
L 474.692534 65.462471 
L 474.422793 66.346045 
L 475.917716 66.303051 
L 477.303065 68.423234 
L 478.102759 68.614108 
L 476.833336 69.788111 
L 477.891785 70.308662 
L 479.344733 72.186393 
L 478.8555 70.066346 
L 480.756693 72.382055 
L 482.237231 73.612789 
L 482.450894 74.968826 
L 483.107229 73.565355 
L 483.912031 76.310059 
L 484.916112 74.906555 
L 484.066637 76.333965 
L 485.790767 78.036101 
L 486.392661 76.968553 
L 487.341347 79.281858 
L 488.122686 78.698278 
L 490.591491 80.484754 
L 489.389851 80.251335 
L 490.511991 82.122435 
L 490.543656 83.743132 
L 492.529905 83.655183 
L 491.749231 83.581916 
L 493.29837 84.28356 
L 492.355296 83.712668 
L 493.13026 84.513157 
L 495.626651 86.250049 
L 495.916626 86.987343 
L 496.020795 88.596941 
L 496.136531 88.574516 
L 498.706695 88.92377 
L 498.142512 89.674761 
L 498.117798 90.301606 
L 500.727267 91.012593 
L 499.18591 92.31082 
L 501.467709 92.185205 
L 500.710165 92.88662 
L 501.684333 93.624409 
L 502.346152 95.286239 
L 503.807644 94.188751 
L 505.674785 96.682799 
L 506.020218 98.556646 
L 506.878461 98.317023 
L 507.544847 97.677424 
L 507.98341 99.618827 
L 508.691623 101.067442 
L 508.513724 100.005789 
L 510.156264 102.226911 
L 511.512749 102.708505 
L 511.103776 102.788643 
L 512.497434 105.006127 
L 513.982941 104.929735 
L 514.105989 105.997576 
L 514.290836 105.775456 
L 514.297082 105.472757 
L 515.925264 107.625263 
L 518.49932 108.285117 
L 518.026381 109.28451 
L 518.993708 109.694019 
L 518.951837 112.311986 
L 519.20043 111.096874 
L 520.239878 111.284575 
L 520.911755 113.546549 
L 521.885054 113.053359 
L 521.885054 113.053359 
" clip-path="url(#pc0ad0b9c01)" style="fill: none; stroke: #ff9f3a; stroke-width: 1.5; stroke-linecap: square"/>
   </g>
   <g id="line2d_57">
    <path d="M 352.682247 116.59401 
L 353.305099 116.023897 
L 353.518356 115.239104 
L 354.885731 114.312741 
L 356.396224 112.468505 
L 355.171874 113.337241 
L 356.588977 112.662686 
L 358.866955 111.006819 
L 357.733639 110.997083 
L 358.390114 109.5172 
L 358.95506 109.957362 
L 359.307642 108.904367 
L 361.102231 108.328118 
L 361.812209 107.472319 
L 362.326401 106.40418 
L 363.023316 105.764481 
L 363.900885 105.43243 
L 364.193709 104.103239 
L 366.036114 103.446413 
L 366.219984 102.030476 
L 366.53918 101.370311 
L 367.523703 101.393583 
L 367.718574 100.730396 
L 368.850937 100.345816 
L 369.453541 98.578266 
L 369.743919 99.254405 
L 371.271157 97.684122 
L 371.887026 97.277409 
L 372.586224 95.870714 
L 372.945742 95.874531 
L 373.334433 96.023748 
L 375.461362 93.533802 
L 376.745791 92.772282 
L 376.758077 92.478346 
L 377.437723 91.167386 
L 378.472594 90.517924 
L 379.446965 89.038684 
L 380.883442 87.726933 
L 383.377446 85.081775 
L 383.369066 84.515655 
L 384.023341 83.895888 
L 385.62825 83.097984 
L 385.878852 82.027498 
L 387.068315 81.525181 
L 388.359707 80.436271 
L 389.28839 79.061132 
L 389.503745 79.065905 
L 389.864025 78.502476 
L 390.966089 77.853553 
L 391.410416 77.401499 
L 392.494458 75.828664 
L 393.527034 74.96641 
L 393.588276 74.257128 
L 394.624099 74.441341 
L 394.625356 73.031115 
L 396.384892 72.267561 
L 396.530444 71.988241 
L 397.003388 71.343201 
L 398.350648 70.042179 
L 398.00703 69.854044 
L 399.504644 68.963671 
L 400.627885 67.826413 
L 401.270021 67.665163 
L 402.303347 65.694783 
L 403.342094 65.342638 
L 403.044213 64.394415 
L 403.815956 63.879357 
L 405.195989 62.536355 
L 406.410916 61.922859 
L 407.55419 61.115474 
L 407.979089 59.314922 
L 408.955822 58.479789 
L 410.093777 57.799808 
L 411.292929 56.20898 
L 412.190501 55.762527 
L 413.066021 54.675492 
L 414.57894 53.644816 
L 415.218103 52.764914 
L 415.925151 52.856659 
L 415.996047 50.945512 
L 417.482854 51.44481 
L 418.088601 49.773368 
L 418.658516 49.18404 
L 419.282904 48.782354 
L 421.538389 45.621888 
L 422.124534 45.674891 
L 423.033219 44.612578 
L 423.697459 43.624572 
L 425.346737 42.54392 
L 426.752698 42.348854 
L 427.324496 41.46509 
L 428.660478 41.28576 
L 430.207721 40.0744 
L 431.02813 39.820858 
L 432.899314 39.365464 
L 435.883535 38.964471 
L 437.275838 38.661619 
L 438.846358 38.551597 
L 440.811518 39.160226 
L 441.421449 39.545589 
L 442.918959 39.253684 
L 445.041339 39.592241 
L 446.145945 40.452964 
L 447.757986 40.5652 
L 449.027668 41.300776 
L 449.80111 42.623114 
L 451.906617 42.356903 
L 452.601812 43.550771 
L 453.848706 44.994799 
L 455.445051 45.611507 
L 455.738507 46.279215 
L 456.519734 47.549293 
L 457.083753 47.791854 
L 458.27594 49.595052 
L 459.179949 49.631412 
L 460.152203 51.066441 
L 460.295675 52.013064 
L 461.182164 52.252196 
L 461.433877 53.085745 
L 462.122284 53.479315 
L 463.215086 54.582639 
L 463.947816 54.727077 
L 464.294864 55.833451 
L 465.12347 56.333423 
L 465.699436 56.967207 
L 467.031127 57.523718 
L 467.222293 58.319667 
L 467.911329 58.932024 
L 468.780221 58.972369 
L 468.696718 60.212292 
L 469.562648 61.159988 
L 470.989255 62.161775 
L 470.922806 62.223228 
L 471.375657 63.278637 
L 472.623059 63.490528 
L 473.875928 64.5985 
L 473.891403 65.107041 
L 474.485554 65.724596 
L 475.403819 66.362895 
L 476.036271 67.10133 
L 477.297856 68.226343 
L 477.581028 69.520424 
L 478.551723 69.794925 
L 478.69959 70.626655 
L 480.254062 70.893767 
L 480.269498 71.058221 
L 481.969409 72.831617 
L 481.71313 72.894579 
L 482.850182 74.888066 
L 483.676654 75.752356 
L 484.991287 76.195846 
L 484.906443 75.882347 
L 485.212347 76.916712 
L 487.324794 78.53009 
L 487.560469 79.297335 
L 489.167252 80.171176 
L 489.332878 80.548202 
L 490.618212 81.003203 
L 491.076171 82.089759 
L 490.529705 82.319517 
L 492.26507 83.003501 
L 492.656081 84.452222 
L 493.654244 84.868797 
L 493.769224 85.352964 
L 494.921543 86.49954 
L 495.87687 87.224143 
L 496.112278 88.229801 
L 497.026615 87.399318 
L 496.592753 89.147425 
L 497.709458 89.371382 
L 498.535259 89.920828 
L 499.685933 91.205918 
L 500.919443 92.058004 
L 500.761791 92.445115 
L 502.332852 93.416478 
L 502.940104 93.979067 
L 503.621203 95.33854 
L 504.50175 95.922828 
L 505.225838 96.651185 
L 505.493795 97.203982 
L 506.367162 97.674362 
L 508.094496 98.972657 
L 508.269079 99.71028 
L 508.849603 100.804012 
L 509.788768 100.927428 
L 510.936575 102.942714 
L 510.794341 102.573818 
L 511.88949 103.118501 
L 512.864753 103.813731 
L 512.886379 104.353575 
L 514.161974 105.975309 
L 515.349972 106.435438 
L 516.107831 107.130682 
L 516.016169 107.84824 
L 517.512715 108.900566 
L 517.687342 109.563159 
L 518.560927 110.362921 
L 519.424115 111.436749 
L 521.072522 112.866435 
L 521.81655 113.457769 
L 521.81655 113.457769 
" clip-path="url(#pc0ad0b9c01)" style="fill: none; stroke: #e8231b; stroke-width: 2; stroke-linecap: square"/>
   </g>
   <g id="legend_2">
    <g id="patch_11">
     <path d="M 315.885 238.5 
L 422.480312 238.5 
Q 424.480312 238.5 424.480312 236.5 
L 424.480312 193.465625 
Q 424.480312 191.465625 422.480312 191.465625 
L 315.885 191.465625 
Q 313.885 191.465625 313.885 193.465625 
L 313.885 236.5 
Q 313.885 238.5 315.885 238.5 
z
" style="fill: #ffffff; opacity: 0.8; stroke: #cccccc; stroke-linejoin: miter"/>
    </g>
    <g id="line2d_58">
     <path d="M 317.885 199.564063 
L 327.885 199.564063 
L 337.885 199.564063 
" style="fill: none; stroke: #000000; stroke-width: 3; stroke-linecap: square"/>
    </g>
    <g id="text_44">
     <text style="font-size: 10px; font-family: 'DejaVu Sans', sans-serif; text-anchor: start" x="345.885" y="203.064063" transform="rotate(-0 345.885 203.064063)">Ground truth</text>
    </g>
    <g id="line2d_59">
     <path d="M 317.885 214.242188 
L 327.885 214.242188 
L 337.885 214.242188 
" style="fill: none; stroke: #ff9f3a; stroke-width: 1.5; stroke-linecap: square"/>
    </g>
    <g id="text_45">
     <text style="font-size: 10px; font-family: 'DejaVu Sans', sans-serif; text-anchor: start" x="345.885" y="217.742188" transform="rotate(-0 345.885 217.742188)">Before filtering</text>
    </g>
    <g id="line2d_60">
     <path d="M 317.885 228.920312 
L 327.885 228.920312 
L 337.885 228.920312 
" style="fill: none; stroke: #e8231b; stroke-width: 1.5; stroke-linecap: square"/>
    </g>
    <g id="text_46">
     <text style="font-size: 10px; font-family: 'DejaVu Sans', sans-serif; text-anchor: start" x="345.885" y="232.420312" transform="rotate(-0 345.885 232.420312)">After filtering</text>
    </g>
   </g>
  </g>
 </g>
 <defs>
  <clipPath id="pd5484f3f6d">
   <rect x="2.235" y="0.371" width="243.8" height="243.8"/>
  </clipPath>
  <clipPath id="pc0ad0b9c01">
   <rect x="308.1945" y="0.31005" width="243.8" height="243.8"/>
  </clipPath>
 </defs>
</svg>
</div>
<div class="cap" style="left:102px;top:251px">(<b>a</b>) Front view</div>
<div class="cap" style="left:381px;top:251px">(<b>b</b>) Vertical view</div>
</body></html>
